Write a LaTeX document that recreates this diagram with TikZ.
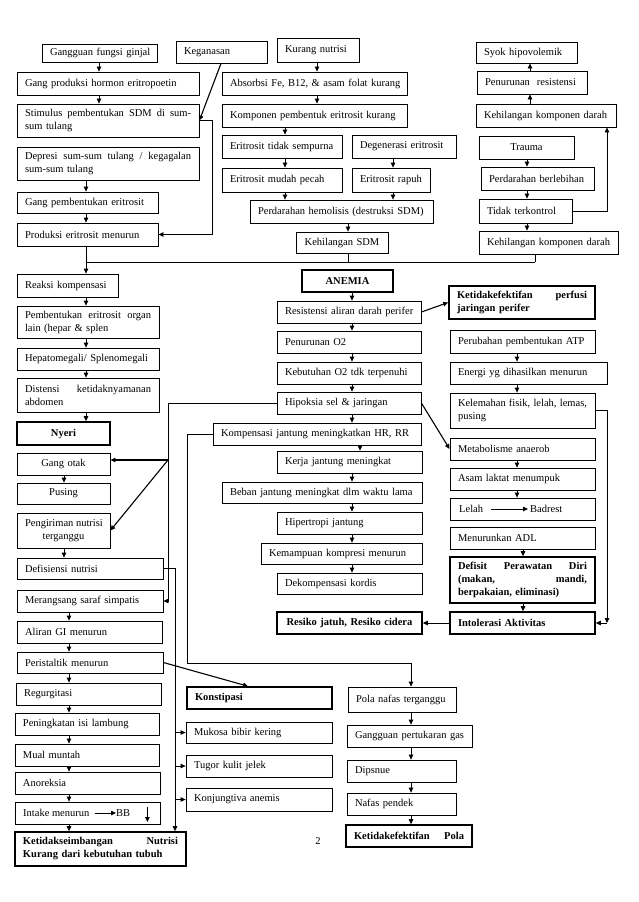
\documentclass[tikz,border=0pt]{standalone}
\usepackage{fontspec}
\setmainfont{Liberation Serif}
\usetikzlibrary{arrows.meta,calc}
\newcommand\fs{\fontsize{10.5}{13}\selectfont}
\newcommand\jlast[1]{\leavevmode\hbox to\hsize{\spaceskip=2.6pt plus 1fil\relax #1}}
\newcommand\jl[1]{\jlast{#1}\newline}
\newcommand\mybox[7][]{%
 \pgfmathsetmacro\bw{#5-#3}%
 \pgfmathsetmacro\bh{#6-#4}%
 \pgfmathsetmacro\bcx{(#3+#5)/2}%
 \pgfmathsetmacro\bcy{(#4+#6)/2}%
 \pgfmathsetmacro\btw{#5-#3-16}%
 \node[box,minimum width=\bw pt,minimum height=\bh pt,text width=\btw pt,#1] (#2) at (\bcx,\bcy) {\mbox{#7}};}
\newcommand\myboxm[7][]{%
 \pgfmathsetmacro\bw{#5-#3}%
 \pgfmathsetmacro\bh{#6-#4}%
 \pgfmathsetmacro\bcx{(#3+#5)/2}%
 \pgfmathsetmacro\bcy{(#4+#6)/2}%
 \pgfmathsetmacro\btw{#5-#3-16}%
 \node[box,minimum width=\bw pt,minimum height=\bh pt,text width=\btw pt,#1] (#2) at (\bcx,\bcy) {#7};}
\newcommand\va[3]{\draw[arr] (#3,0 |- #1.south) -- (#3,0 |- #2.north);}
\newcommand\vu[3]{\draw[arr] (#3,0 |- #1.north) -- (#3,0 |- #2.south);}
\tikzset{
 box/.style={draw, line width=0.8pt, inner xsep=8pt, inner ysep=0pt, align=left, font=\fs},
 bold/.style={line width=1.6pt, font=\fs\bfseries},
 arr/.style={-{Triangle[length=5pt,width=4.5pt]}, line width=0.8pt},
 ln/.style={line width=0.8pt},
 txt/.style={inner sep=0pt, font=\fs}
}
\begin{document}
\begin{tikzpicture}[x=1pt,y=-1pt]
\fill[white] (0,0) rectangle (638,902);
\useasboundingbox (0,0) rectangle (638,902);
% top left
\mybox[align=center]{ggf}{42}{44}{157}{62}{Gangguan fungsi ginjal}
\mybox{keg}{176}{41}{267}{63}{Keganasan}
\mybox{gph}{17}{72}{199}{95}{Gang produksi hormon eritropoetin}
\myboxm{stim}{17}{104}{199}{137}{\jl{Stimulus pembentukan SDM di sum-}sum tulang}
\myboxm{dep}{17}{147}{199}{180}{\jl{Depresi sum-sum tulang / kegagalan}sum-sum tulang}
\mybox{gpe}{17}{192}{158}{213}{Gang pembentukan eritrosit}
\mybox{prod}{17}{223}{158}{246}{Produksi eritrosit menurun}
% top middle
\mybox{kn}{277}{38}{359}{62}{Kurang nutrisi}
\mybox{abs}{222}{72}{407}{95}{Absorbsi Fe, B12, \& asam folat kurang}
\mybox{komp}{222}{104}{407}{127}{Komponen pembentuk eritrosit kurang}
\mybox{ets}{222}{135}{342}{158}{Eritrosit tidak sempurna}
\mybox{deg}{352}{135}{456}{158}{Degenerasi eritrosit}
\mybox{emp}{222}{168}{342}{192}{Eritrosit mudah pecah}
\mybox{er}{352}{168}{430}{192}{Eritrosit rapuh}
\mybox{ph}{250}{200}{433}{223}{Perdarahan hemolisis (destruksi SDM)}
\mybox[align=center]{ksdm}{296}{232}{388}{253}{Kehilangan SDM}
% top right
\mybox{syok}{476}{42}{577}{63}{Syok hipovolemik}
\mybox{pres}{477}{71}{587}{94}{Penurunan\ \ resistensi}
\mybox{kkd1}{476}{104}{616}{127}{Kehilangan komponen darah}
\mybox[align=center]{trauma}{479}{136}{574}{159}{Trauma}
\mybox{pb}{481}{167}{594}{190}{Perdarahan berlebihan}
\mybox{tt}{479}{199}{572}{223}{Tidak terkontrol}
\mybox{kkd2}{479}{231}{618}{254}{Kehilangan komponen darah}
% left column
\mybox{reaksi}{17}{274}{118}{297}{Reaksi kompensasi}
\myboxm{pemb}{17}{306}{159}{338}{\jl{Pembentukan eritrosit organ}lain (hepar \& splen}
\mybox{hep}{17}{348}{159}{370}{Hepatomegali/ Splenomegali}
\myboxm{dist}{17}{378}{159}{412}{\jl{Distensi ketidaknyamanan}abdomen}
\mybox[bold,align=center]{nyeri}{17}{422}{110}{445}{Nyeri}
\mybox[align=center]{otak}{17}{453}{110}{475}{Gang otak}
\mybox[align=center]{pusing}{17}{483}{110}{504}{Pusing}
\myboxm[align=center]{peng}{17}{513}{110}{548}{\jl{Pengiriman nutrisi}terganggu}
\mybox{defn}{17}{558}{163}{579}{Defisiensi nutrisi}
\mybox{meran}{17}{590}{163}{612}{Merangsang saraf simpatis}
\mybox{aliran}{17}{621}{162}{643}{Aliran GI\ menurun}
\mybox{peris}{17}{652}{163}{673}{Peristaltik menurun}
\mybox{regur}{16}{683}{161}{705}{Regurgitasi}
\mybox{pening}{15}{713}{159}{735}{Peningkatan isi lambung}
\mybox{mual}{15}{744}{159}{766}{Mual muntah}
\mybox{anor}{15}{772}{160}{794}{Anoreksia}
\mybox{intake}{15}{802}{160}{824}{}
\myboxm[bold]{ketns}{15}{832}{186}{866}{\jl{Ketidakseimbangan Nutrisi}Kurang dari kebutuhan tubuh}
\node[txt,anchor=west] (ti) at (23,813) {Intake menurun};
\node[txt,anchor=west] (tbb) at (116,813) {BB};
\draw[arr] ($(ti.east)+(5,0)$) -- (tbb.west);
\draw[arr,line width=1.1pt] ($(tbb.east)+(17,-6)$) -- ($(tbb.east)+(17,9)$);
% middle column
\mybox[bold,align=center]{anemia}{302}{270}{393}{292}{ANEMIA}
\mybox{resist}{277}{301}{421}{323}{Resistensi aliran darah perifer}
\mybox{po2}{277}{331}{421}{353}{Penurunan O2}
\mybox{keb}{277}{362}{421}{384}{Kebutuhan O2 tdk terpenuhi}
\mybox{hip}{277}{392}{421}{414}{Hipoksia\ sel \& jaringan}
\mybox{kjm}{213}{423}{421}{445}{Kompensasi jantung meningkatkan\ HR, RR}
\mybox{kerja}{277}{451}{422}{473}{Kerja\ jantung meningkat}
\mybox{beban}{222}{482}{422}{503}{Beban jantung meningkat dlm waktu lama}
\mybox{hipert}{277}{512}{422}{534}{Hipertropi jantung}
\mybox{kemamp}{261}{543}{422}{564}{Kemampuan kompresi menurun}
\mybox{dekomp}{277}{573}{422}{594}{Dekompensasi kordis}
\mybox[bold,align=center]{resiko}{277}{612}{422}{634}{Resiko jatuh,\ Resiko cidera}
% right middle
\myboxm[bold]{kperf}{449}{286}{595}{319}{\jl{Ketidakefektifan perfusi}jaringan perifer}
\mybox{atp}{450}{330}{595}{353}{Perubahan pembentukan ATP}
\mybox{energi}{450}{362}{607}{384}{Energi yg dihasilkan menurun}
\myboxm{lemah}{450}{393}{595}{428}{\jl{Kelemahan fisik, lelah, lemas,}pusing}
\mybox{metab}{450}{438}{595}{460}{Metabolisme anaerob}
\mybox{asam}{450}{468}{595}{490}{Asam laktat menumpuk}
\mybox{lelah}{450}{498}{595}{520}{}
\node[txt,anchor=west] (tl) at (459,509) {Lelah};
\node[txt,anchor=west] (tb) at (530,509) {Badrest};
\draw[arr] ($(tl.east)+(8,0)$) -- ($(tb.west)+(-2,0)$);
\mybox{adl}{450}{527}{595}{549}{Menurunkan ADL}
\myboxm[bold]{defisit}{450}{557}{595}{603}{\jl{Defisit Perawatan Diri}\jl{(makan, mandi,}berpakaian,\ eliminasi)}
\mybox[bold]{intol}{450}{612}{595}{634}{Intolerasi\ Aktivitas}
% bottom middle
\mybox[bold]{konst}{187}{687}{332}{709}{Konstipasi}
\mybox{mukosa}{186}{722}{332}{743}{Mukosa bibir kering}
\mybox{tugor}{186}{755}{332}{777}{Tugor kulit\ jelek}
\mybox{konj}{186}{788}{332}{811}{Konjungtiva anemis}
\mybox{pola}{348}{687}{456}{712}{Pola nafas terganggu}
\mybox{ggas}{347}{725}{472}{747}{Gangguan pertukaran gas}
\mybox{dips}{347}{760}{456}{782}{Dipsnue}
\mybox{nafas}{347}{793}{456}{815}{Nafas pendek}
\myboxm[bold]{kpola}{346}{825}{472}{847}{\jlast{Ketidakefektifan Pola}}
\node[txt] (pg) at (318,841) {2};
% connectors top left
\va{ggf}{gph}{99}
\va{gph}{stim}{99}
\va{dep}{gpe}{86}
\va{gpe}{prod}{86}
\draw[arr,line width=1.1pt] (221,0 |- keg.south) -- (stim.east);
\draw[arr] (stim.east) -- ++(13,0) |- (prod.east);
% top middle
\va{kn}{abs}{317}
\va{abs}{komp}{317}
\va{komp}{ets}{285}
\va{ets}{emp}{285}
\va{emp}{ph}{285}
\va{deg}{er}{393}
\va{er}{ph}{393}
\va{ph}{ksdm}{348}
% top right
\vu{pres}{syok}{530}
\vu{kkd1}{pres}{530}
\va{trauma}{pb}{527}
\va{pb}{tt}{527}
\va{tt}{kkd2}{527}
\draw[arr] (tt.east) -- (607,0 |- tt.east) -- (607,0 |- kkd1.south);
% joining line
\coordinate (J1) at (86,262);
\coordinate (J2) at (535,262);
\draw[ln] (J1) -- (J2);
\draw[ln] (348,0 |- ksdm.south) -- (348,0 |- J1);
\draw[ln] (535,0 |- kkd2.south) -- (J2);
\va{prod}{reaksi}{86}
% left column
\va{reaksi}{pemb}{86}
\va{pemb}{hep}{86}
\va{hep}{dist}{86}
\va{dist}{nyeri}{86}
\va{otak}{pusing}{64}
\va{peng}{defn}{64}
\coordinate (br) at (168,460);
\draw[arr] (hip.west) -- (168,0 |- hip.west) -- (168,0 |- meran.east) -- (meran.east);
\draw[arr,line width=1.1pt] (br) -- (br -| otak.east);
\draw[arr,line width=1.1pt] (br) -- (peng.east);
\draw[arr] (defn.east) -- (175,0 |- defn.east) -- (175,0 |- ketns.north);
\foreach \n in {mukosa,tugor,konj} {\draw[arr] (175,0 |- \n.west) -- (\n.west);}
\coordinate (c1) at (187,663);
\coordinate (c2) at (411,663);
\draw[arr] (kjm.west) -- (187,0 |- kjm.west) -- (c1) -- (c2) -- (411,0 |- pola.north);
\draw[arr,line width=1.1pt] (peris.east) -- (248,0 |- konst.north);
\va{meran}{aliran}{69}
\va{aliran}{peris}{69}
\va{peris}{regur}{69}
\va{regur}{pening}{69}
\va{pening}{mual}{69}
\va{mual}{anor}{69}
\va{anor}{intake}{69}
\va{intake}{ketns}{69}
% middle
\va{anemia}{resist}{352}
\va{resist}{po2}{352}
\va{po2}{keb}{352}
\va{keb}{hip}{352}
\va{hip}{kjm}{352}
\va{kjm}{kerja}{360}
\va{kerja}{beban}{352}
\va{beban}{hipert}{352}
\va{hipert}{kemamp}{352}
\va{kemamp}{dekomp}{352}
\draw[arr,line width=1.1pt] (resist.east) -- (kperf.west);
\draw[arr,line width=1.1pt] (hip.east) -- (metab.west);
\draw[arr] (intol.west) -- (resiko.east);
% right
\va{atp}{energi}{517}
\va{energi}{lemah}{517}
\va{metab}{asam}{517}
\va{asam}{lelah}{517}
\va{adl}{defisit}{523}
\va{defisit}{intol}{523}
\draw[arr] (lemah.east) -- (607,0 |- lemah.east) -- (607,0 |- intol.east);
\draw[arr] (607,0 |- intol.east) -- (intol.east);
% bottom right
\va{pola}{ggas}{411}
\va{ggas}{dips}{411}
\va{dips}{nafas}{411}
\va{nafas}{kpola}{411}
\end{tikzpicture}
\end{document}
